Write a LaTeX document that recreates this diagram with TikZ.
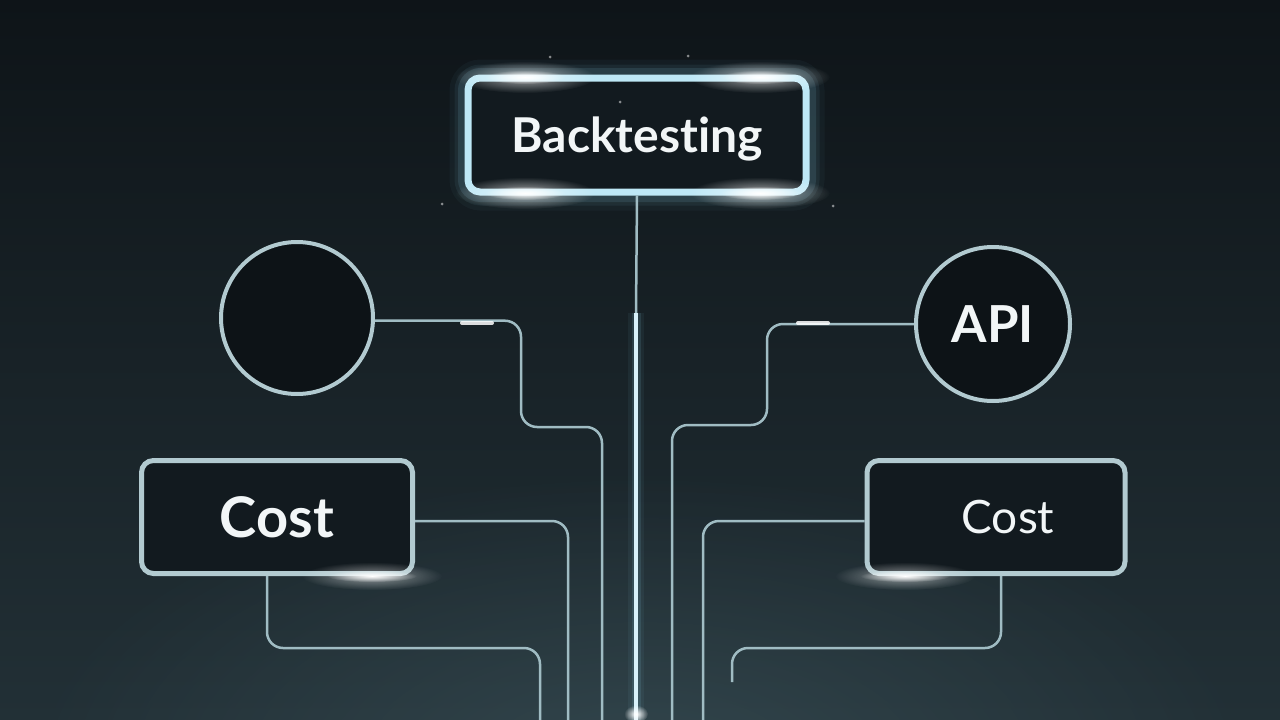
\documentclass[tikz,border=0pt]{standalone}
\usepackage{fontspec}
\setmainfont{Lato}[Ligatures={NoCommon}]
\usepackage{tikz}
\usetikzlibrary{positioning, fadings, backgrounds, calc}
\definecolor{bgtop}{RGB}{14, 20, 24}
\definecolor{bgbot}{RGB}{34, 48, 54}
\definecolor{bgglow}{RGB}{70, 96, 104}
\definecolor{boxfill}{RGB}{18, 26, 31}
\definecolor{ringfill}{RGB}{13, 19, 23}
\definecolor{edgegrey}{RGB}{178, 202, 208}
\definecolor{edgeblue}{RGB}{190, 232, 246}
\definecolor{glowblue}{RGB}{140, 210, 235}
\definecolor{wiregrey}{RGB}{160, 188, 195}
\definecolor{textwhite}{RGB}{242, 246, 247}
\tikzfading[name=softglow, inner color=transparent!0, outer color=transparent!100]

\begin{document}
\begin{tikzpicture}[
    x=1pt, y=-1pt,
    box/.style={rectangle, rounded corners=12pt, draw=edgegrey, line width=5pt, fill=boxfill, text=textwhite},
    ring/.style={circle, draw=edgegrey, line width=4pt, fill=ringfill, text=textwhite, inner sep=0pt},
    wire/.style={draw=wiregrey, line width=2.5pt, rounded corners=16pt},
    spark/.style={white, path fading=softglow}
]
\useasboundingbox (0,0) rectangle (1280,720);

% Nodes
\node[box, draw=edgeblue, line width=7pt, minimum width=338pt, minimum height=114pt, text depth=0pt, font=\fontsize{48}{48}\selectfont\bfseries] (bt) at (637,135) {Backtesting};
\node[ring, minimum size=152pt] (lcirc) at (297,318) {};
\node[ring, minimum size=154pt, font=\fontsize{51}{51}\selectfont\bfseries] (api) at (993,324) {API};
\node[box, minimum width=271pt, minimum height=113pt, font=\fontsize{56}{56}\selectfont\bfseries] (lcost) at (277,517) {Cost};
\node[box, minimum width=258pt, minimum height=113pt, font=\fontsize{46}{46}\selectfont] (rcost) at (996,517) {\hspace*{24pt}\raisebox{-3pt}{Cost}};

% Free ends at the bottom
\coordinate (mid) at (636,313);
\coordinate (b1) at (602,720);
\coordinate (b2) at (672,720);
\coordinate (b3) at (568,720);
\coordinate (b4) at (540,720);
\coordinate (b5) at (703,720);
\coordinate (b6) at (732,682);
\coordinate (b7) at (636,720);

% Background and halos
\begin{scope}[on background layer]
  \shade[top color=bgtop, bottom color=bgbot] (0,0) rectangle (1280,720);
  \fill[bgglow, opacity=0.45, path fading=softglow] (640,770) ellipse (620 and 300);
  \foreach \w/\o in {30/0.04, 20/0.07, 13/0.12}
    \draw[glowblue, line width=\w pt, opacity=\o, rounded corners=16pt] (bt.north west) rectangle (bt.south east);
  \foreach \w/\o in {16/0.06, 9/0.12}
    \draw[glowblue, line width=\w pt, opacity=\o] (mid) -- (b7);
\end{scope}

% Wires
\draw[wire] (lcirc.-2) -| (521,427) -| (b1);
\draw[wire] (api.west) -| (767,425) -| (b2);
\draw[wire] ([yshift=-4pt]lcost.east) -| (b3);
\draw[wire] ([xshift=-10pt]lcost.south) |- (540,648) -- (b4);
\draw[wire] ([yshift=-4pt]rcost.west) -| (b5);
\draw[wire] ([xshift=5pt]rcost.south) |- (732,648) -- (b6);
\draw[wiregrey, line width=2.5pt] (bt.south) -- (mid);
\draw[edgeblue!60!white, line width=4.5pt] (mid) -- (b7);

% Glints
\foreach \gx in {525, 760} {
  \fill[spark, opacity=0.6] (\gx,77) ellipse (70 and 16);
  \fill[spark] (\gx,77) ellipse (40 and 7);
  \fill[spark, opacity=0.6] (\gx,193) ellipse (70 and 16);
  \fill[spark] (\gx,193) ellipse (40 and 7);
}
\fill[spark, opacity=0.5] (372,576) ellipse (70 and 14);
\fill[spark] (372,576) ellipse (45 and 6);
\fill[spark, opacity=0.5] (905,576) ellipse (70 and 14);
\fill[spark] (905,576) ellipse (45 and 6);
\draw[white, line width=4pt, line cap=round, opacity=0.85] (462,323) -- (492,323);
\draw[white, line width=4pt, line cap=round, opacity=0.85] (798,323) -- (828,323);
\fill[spark] (636,714) ellipse (12 and 9);
\foreach \p in {(442,204), (833,206), (550,57), (688,56), (620,102)}
  \fill[white, opacity=0.5] \p circle (1.5);
\end{tikzpicture}
\end{document}
